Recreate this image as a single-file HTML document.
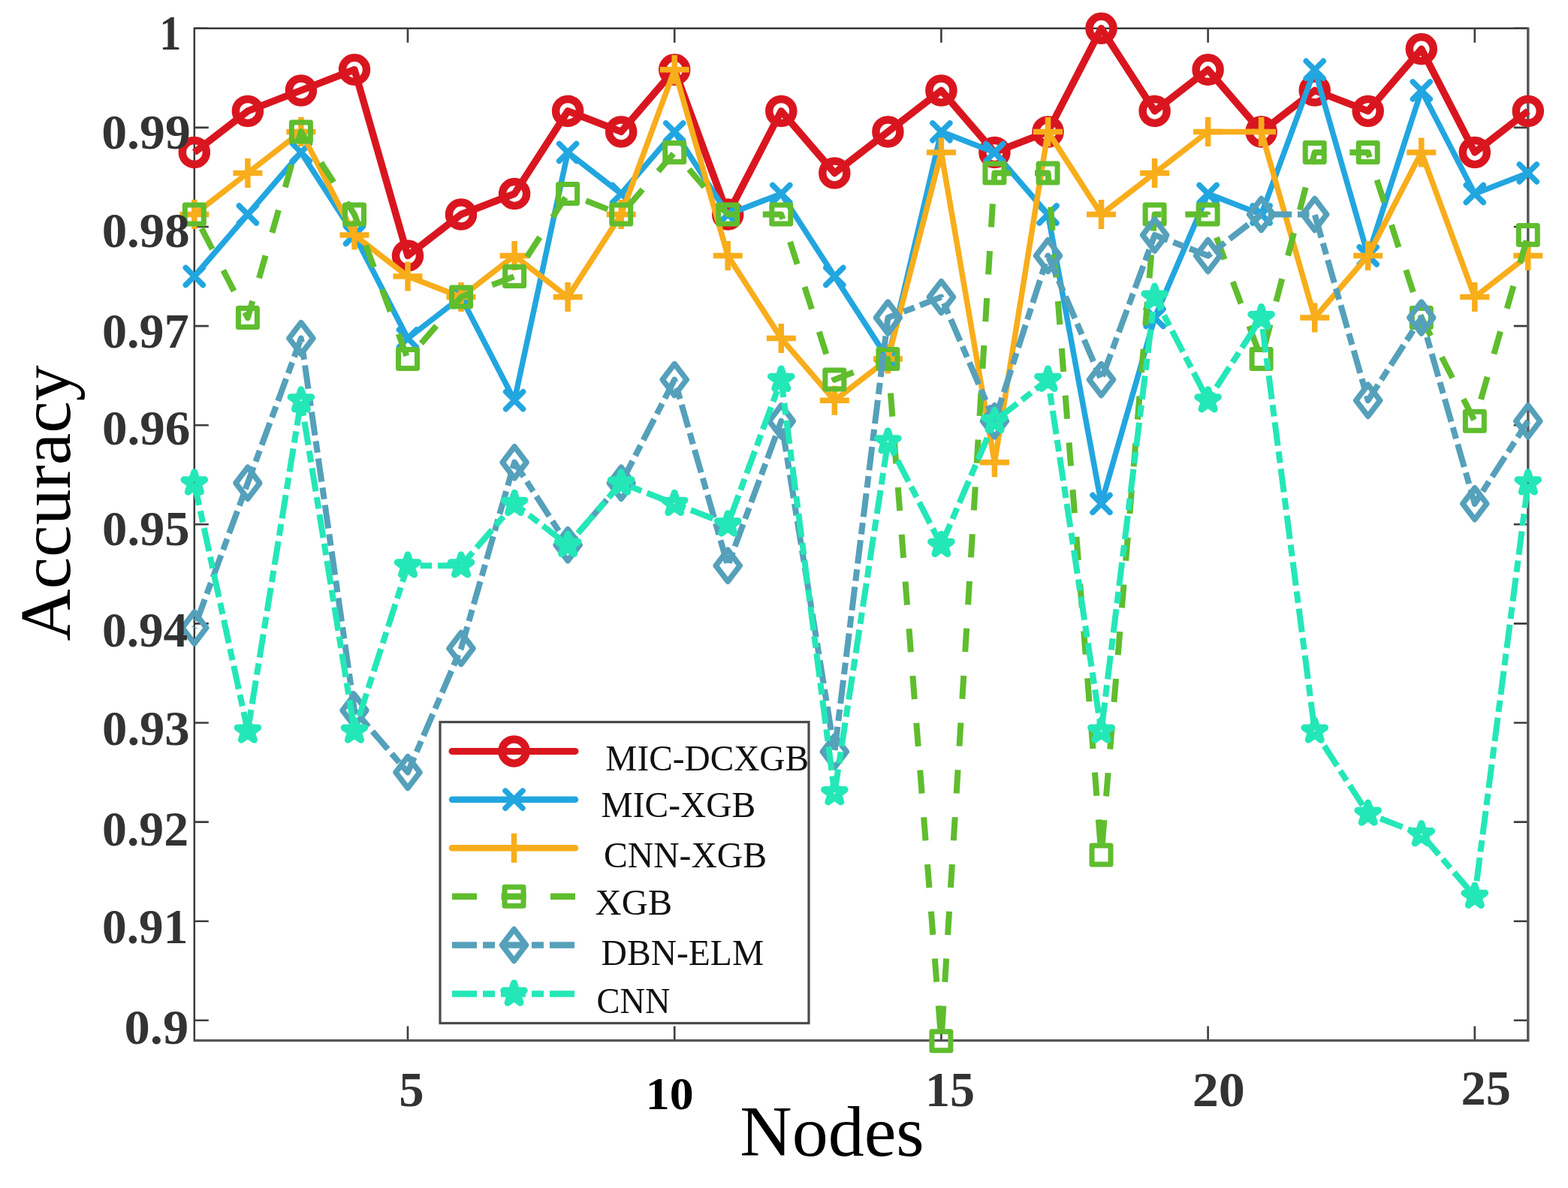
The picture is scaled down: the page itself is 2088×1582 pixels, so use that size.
<!DOCTYPE html>
<html><head><meta charset="utf-8"><title>Accuracy vs Nodes</title>
<style>html,body{margin:0;padding:0;background:#fff;}svg{display:block;}#c{width:2088px;height:1582px;}</style>
</head><body><div id="c">
<svg width="2088" height="1582" viewBox="0 0 2088 1582">
<rect x="0" y="0" width="2088" height="1582" fill="#fff"/>
<defs><clipPath id="ax"><rect x="233.83999999999997" y="12.799999999999997" width="1826.0000000000002" height="1397.8"/></clipPath></defs>
<path d="M543.0,1385.6V1366.6M543.0,37.8V56.8M898.2,1385.6V1366.6M898.2,37.8V56.8M1253.4,1385.6V1366.6M1253.4,37.8V56.8M1608.6,1385.6V1366.6M1608.6,37.8V56.8M1963.8,1385.6V1366.6M1963.8,37.8V56.8M258.8,37.8H277.8M2034.8,37.8H2015.8M258.8,169.9H277.8M2034.8,169.9H2015.8M258.8,302.0H277.8M2034.8,302.0H2015.8M258.8,434.1H277.8M2034.8,434.1H2015.8M258.8,566.2H277.8M2034.8,566.2H2015.8M258.8,698.3H277.8M2034.8,698.3H2015.8M258.8,830.4H277.8M2034.8,830.4H2015.8M258.8,962.5H277.8M2034.8,962.5H2015.8M258.8,1094.6H277.8M2034.8,1094.6H2015.8M258.8,1226.7H277.8M2034.8,1226.7H2015.8M258.8,1358.8H277.8M2034.8,1358.8H2015.8" stroke="#3d3d3d" stroke-width="2.6" fill="none"/>
<path d="M257.6,37.8H2034.8M258.8,37.8V1385.6" stroke="#3a3a3a" stroke-width="2.5" fill="none"/>
<path d="M257.6,1385.6H2036.5M2034.8,36.6V1385.6" stroke="#555" stroke-width="3.4" fill="none"/>
<g clip-path="url(#ax)">
<polyline points="258.8,202.9 329.9,147.9 400.9,120.4 472.0,92.8 543.0,340.5 614.0,285.5 685.1,258.0 756.1,147.9 827.2,175.4 898.2,92.8 969.2,285.5 1040.3,147.9 1111.3,230.4 1182.4,175.4 1253.4,120.4 1324.4,202.9 1395.5,175.4 1466.5,37.8 1537.6,147.9 1608.6,92.8 1679.6,175.4 1750.7,120.4 1821.7,147.9 1892.8,65.3 1963.8,202.9 2034.8,147.9" fill="none" stroke="#d9161f" stroke-width="9.5" stroke-linejoin="round" stroke-linecap="butt"/>
<circle cx="258.8" cy="202.9" r="16" fill="none" stroke="#d9161f" stroke-width="10.5"/>
<circle cx="329.9" cy="147.9" r="16" fill="none" stroke="#d9161f" stroke-width="10.5"/>
<circle cx="400.9" cy="120.4" r="16" fill="none" stroke="#d9161f" stroke-width="10.5"/>
<circle cx="472.0" cy="92.8" r="16" fill="none" stroke="#d9161f" stroke-width="10.5"/>
<circle cx="543.0" cy="340.5" r="16" fill="none" stroke="#d9161f" stroke-width="10.5"/>
<circle cx="614.0" cy="285.5" r="16" fill="none" stroke="#d9161f" stroke-width="10.5"/>
<circle cx="685.1" cy="258.0" r="16" fill="none" stroke="#d9161f" stroke-width="10.5"/>
<circle cx="756.1" cy="147.9" r="16" fill="none" stroke="#d9161f" stroke-width="10.5"/>
<circle cx="827.2" cy="175.4" r="16" fill="none" stroke="#d9161f" stroke-width="10.5"/>
<circle cx="898.2" cy="92.8" r="16" fill="none" stroke="#d9161f" stroke-width="10.5"/>
<circle cx="969.2" cy="285.5" r="16" fill="none" stroke="#d9161f" stroke-width="10.5"/>
<circle cx="1040.3" cy="147.9" r="16" fill="none" stroke="#d9161f" stroke-width="10.5"/>
<circle cx="1111.3" cy="230.4" r="16" fill="none" stroke="#d9161f" stroke-width="10.5"/>
<circle cx="1182.4" cy="175.4" r="16" fill="none" stroke="#d9161f" stroke-width="10.5"/>
<circle cx="1253.4" cy="120.4" r="16" fill="none" stroke="#d9161f" stroke-width="10.5"/>
<circle cx="1324.4" cy="202.9" r="16" fill="none" stroke="#d9161f" stroke-width="10.5"/>
<circle cx="1395.5" cy="175.4" r="16" fill="none" stroke="#d9161f" stroke-width="10.5"/>
<circle cx="1466.5" cy="37.8" r="16" fill="none" stroke="#d9161f" stroke-width="10.5"/>
<circle cx="1537.6" cy="147.9" r="16" fill="none" stroke="#d9161f" stroke-width="10.5"/>
<circle cx="1608.6" cy="92.8" r="16" fill="none" stroke="#d9161f" stroke-width="10.5"/>
<circle cx="1679.6" cy="175.4" r="16" fill="none" stroke="#d9161f" stroke-width="10.5"/>
<circle cx="1750.7" cy="120.4" r="16" fill="none" stroke="#d9161f" stroke-width="10.5"/>
<circle cx="1821.7" cy="147.9" r="16" fill="none" stroke="#d9161f" stroke-width="10.5"/>
<circle cx="1892.8" cy="65.3" r="16" fill="none" stroke="#d9161f" stroke-width="10.5"/>
<circle cx="1963.8" cy="202.9" r="16" fill="none" stroke="#d9161f" stroke-width="10.5"/>
<circle cx="2034.8" cy="147.9" r="16" fill="none" stroke="#d9161f" stroke-width="10.5"/>
<polyline points="258.8,368.0 329.9,285.5 400.9,202.9 472.0,313.0 543.0,450.6 614.0,395.6 685.1,533.2 756.1,202.9 827.2,258.0 898.2,175.4 969.2,285.5 1040.3,258.0 1111.3,368.0 1182.4,478.1 1253.4,175.4 1324.4,202.9 1395.5,285.5 1466.5,670.8 1537.6,423.1 1608.6,258.0 1679.6,285.5 1750.7,92.8 1821.7,340.5 1892.8,120.4 1963.8,258.0 2034.8,230.4" fill="none" stroke="#22a6e0" stroke-width="7.5" stroke-linejoin="round" stroke-linecap="butt"/>
<path d="M247.3,356.5L270.3,379.5M247.3,379.5L270.3,356.5" stroke="#22a6e0" stroke-width="7.5" stroke-linecap="round" fill="none"/>
<path d="M318.4,274.0L341.4,297.0M318.4,297.0L341.4,274.0" stroke="#22a6e0" stroke-width="7.5" stroke-linecap="round" fill="none"/>
<path d="M389.4,191.4L412.4,214.4M389.4,214.4L412.4,191.4" stroke="#22a6e0" stroke-width="7.5" stroke-linecap="round" fill="none"/>
<path d="M460.5,301.5L483.5,324.5M460.5,324.5L483.5,301.5" stroke="#22a6e0" stroke-width="7.5" stroke-linecap="round" fill="none"/>
<path d="M531.5,439.1L554.5,462.1M531.5,462.1L554.5,439.1" stroke="#22a6e0" stroke-width="7.5" stroke-linecap="round" fill="none"/>
<path d="M602.5,384.1L625.5,407.1M602.5,407.1L625.5,384.1" stroke="#22a6e0" stroke-width="7.5" stroke-linecap="round" fill="none"/>
<path d="M673.6,521.7L696.6,544.7M673.6,544.7L696.6,521.7" stroke="#22a6e0" stroke-width="7.5" stroke-linecap="round" fill="none"/>
<path d="M744.6,191.4L767.6,214.4M744.6,214.4L767.6,191.4" stroke="#22a6e0" stroke-width="7.5" stroke-linecap="round" fill="none"/>
<path d="M815.7,246.5L838.7,269.5M815.7,269.5L838.7,246.5" stroke="#22a6e0" stroke-width="7.5" stroke-linecap="round" fill="none"/>
<path d="M886.7,163.9L909.7,186.9M886.7,186.9L909.7,163.9" stroke="#22a6e0" stroke-width="7.5" stroke-linecap="round" fill="none"/>
<path d="M957.7,274.0L980.7,297.0M957.7,297.0L980.7,274.0" stroke="#22a6e0" stroke-width="7.5" stroke-linecap="round" fill="none"/>
<path d="M1028.8,246.5L1051.8,269.5M1028.8,269.5L1051.8,246.5" stroke="#22a6e0" stroke-width="7.5" stroke-linecap="round" fill="none"/>
<path d="M1099.8,356.5L1122.8,379.5M1099.8,379.5L1122.8,356.5" stroke="#22a6e0" stroke-width="7.5" stroke-linecap="round" fill="none"/>
<path d="M1170.9,466.6L1193.9,489.6M1170.9,489.6L1193.9,466.6" stroke="#22a6e0" stroke-width="7.5" stroke-linecap="round" fill="none"/>
<path d="M1241.9,163.9L1264.9,186.9M1241.9,186.9L1264.9,163.9" stroke="#22a6e0" stroke-width="7.5" stroke-linecap="round" fill="none"/>
<path d="M1312.9,191.4L1335.9,214.4M1312.9,214.4L1335.9,191.4" stroke="#22a6e0" stroke-width="7.5" stroke-linecap="round" fill="none"/>
<path d="M1384.0,274.0L1407.0,297.0M1384.0,297.0L1407.0,274.0" stroke="#22a6e0" stroke-width="7.5" stroke-linecap="round" fill="none"/>
<path d="M1455.0,659.3L1478.0,682.3M1455.0,682.3L1478.0,659.3" stroke="#22a6e0" stroke-width="7.5" stroke-linecap="round" fill="none"/>
<path d="M1526.1,411.6L1549.1,434.6M1526.1,434.6L1549.1,411.6" stroke="#22a6e0" stroke-width="7.5" stroke-linecap="round" fill="none"/>
<path d="M1597.1,246.5L1620.1,269.5M1597.1,269.5L1620.1,246.5" stroke="#22a6e0" stroke-width="7.5" stroke-linecap="round" fill="none"/>
<path d="M1668.1,274.0L1691.1,297.0M1668.1,297.0L1691.1,274.0" stroke="#22a6e0" stroke-width="7.5" stroke-linecap="round" fill="none"/>
<path d="M1739.2,81.3L1762.2,104.3M1739.2,104.3L1762.2,81.3" stroke="#22a6e0" stroke-width="7.5" stroke-linecap="round" fill="none"/>
<path d="M1810.2,329.0L1833.2,352.0M1810.2,352.0L1833.2,329.0" stroke="#22a6e0" stroke-width="7.5" stroke-linecap="round" fill="none"/>
<path d="M1881.3,108.9L1904.3,131.9M1881.3,131.9L1904.3,108.9" stroke="#22a6e0" stroke-width="7.5" stroke-linecap="round" fill="none"/>
<path d="M1952.3,246.5L1975.3,269.5M1952.3,269.5L1975.3,246.5" stroke="#22a6e0" stroke-width="7.5" stroke-linecap="round" fill="none"/>
<path d="M2023.3,218.9L2046.3,241.9M2023.3,241.9L2046.3,218.9" stroke="#22a6e0" stroke-width="7.5" stroke-linecap="round" fill="none"/>
<polyline points="258.8,285.5 329.9,230.4 400.9,175.4 472.0,313.0 543.0,368.0 614.0,395.6 685.1,340.5 756.1,395.6 827.2,285.5 898.2,92.8 969.2,340.5 1040.3,450.6 1111.3,533.2 1182.4,478.1 1253.4,202.9 1324.4,615.7 1395.5,175.4 1466.5,285.5 1537.6,230.4 1608.6,175.4 1679.6,175.4 1750.7,423.1 1821.7,340.5 1892.8,202.9 1963.8,395.6 2034.8,340.5" fill="none" stroke="#f8ad1b" stroke-width="7.5" stroke-linejoin="round" stroke-linecap="butt"/>
<path d="M239.3,285.5H278.3M258.8,266.0V305.0" stroke="#f8ad1b" stroke-width="7.5" stroke-linecap="butt" fill="none"/>
<path d="M310.4,230.4H349.4M329.9,210.9V249.9" stroke="#f8ad1b" stroke-width="7.5" stroke-linecap="butt" fill="none"/>
<path d="M381.4,175.4H420.4M400.9,155.9V194.9" stroke="#f8ad1b" stroke-width="7.5" stroke-linecap="butt" fill="none"/>
<path d="M452.5,313.0H491.5M472.0,293.5V332.5" stroke="#f8ad1b" stroke-width="7.5" stroke-linecap="butt" fill="none"/>
<path d="M523.5,368.0H562.5M543.0,348.5V387.5" stroke="#f8ad1b" stroke-width="7.5" stroke-linecap="butt" fill="none"/>
<path d="M594.5,395.6H633.5M614.0,376.1V415.1" stroke="#f8ad1b" stroke-width="7.5" stroke-linecap="butt" fill="none"/>
<path d="M665.6,340.5H704.6M685.1,321.0V360.0" stroke="#f8ad1b" stroke-width="7.5" stroke-linecap="butt" fill="none"/>
<path d="M736.6,395.6H775.6M756.1,376.1V415.1" stroke="#f8ad1b" stroke-width="7.5" stroke-linecap="butt" fill="none"/>
<path d="M807.7,285.5H846.7M827.2,266.0V305.0" stroke="#f8ad1b" stroke-width="7.5" stroke-linecap="butt" fill="none"/>
<path d="M878.7,92.8H917.7M898.2,73.3V112.3" stroke="#f8ad1b" stroke-width="7.5" stroke-linecap="butt" fill="none"/>
<path d="M949.7,340.5H988.7M969.2,321.0V360.0" stroke="#f8ad1b" stroke-width="7.5" stroke-linecap="butt" fill="none"/>
<path d="M1020.8,450.6H1059.8M1040.3,431.1V470.1" stroke="#f8ad1b" stroke-width="7.5" stroke-linecap="butt" fill="none"/>
<path d="M1091.8,533.2H1130.8M1111.3,513.7V552.7" stroke="#f8ad1b" stroke-width="7.5" stroke-linecap="butt" fill="none"/>
<path d="M1162.9,478.1H1201.9M1182.4,458.6V497.6" stroke="#f8ad1b" stroke-width="7.5" stroke-linecap="butt" fill="none"/>
<path d="M1233.9,202.9H1272.9M1253.4,183.4V222.4" stroke="#f8ad1b" stroke-width="7.5" stroke-linecap="butt" fill="none"/>
<path d="M1304.9,615.7H1343.9M1324.4,596.2V635.2" stroke="#f8ad1b" stroke-width="7.5" stroke-linecap="butt" fill="none"/>
<path d="M1376.0,175.4H1415.0M1395.5,155.9V194.9" stroke="#f8ad1b" stroke-width="7.5" stroke-linecap="butt" fill="none"/>
<path d="M1447.0,285.5H1486.0M1466.5,266.0V305.0" stroke="#f8ad1b" stroke-width="7.5" stroke-linecap="butt" fill="none"/>
<path d="M1518.1,230.4H1557.1M1537.6,210.9V249.9" stroke="#f8ad1b" stroke-width="7.5" stroke-linecap="butt" fill="none"/>
<path d="M1589.1,175.4H1628.1M1608.6,155.9V194.9" stroke="#f8ad1b" stroke-width="7.5" stroke-linecap="butt" fill="none"/>
<path d="M1660.1,175.4H1699.1M1679.6,155.9V194.9" stroke="#f8ad1b" stroke-width="7.5" stroke-linecap="butt" fill="none"/>
<path d="M1731.2,423.1H1770.2M1750.7,403.6V442.6" stroke="#f8ad1b" stroke-width="7.5" stroke-linecap="butt" fill="none"/>
<path d="M1802.2,340.5H1841.2M1821.7,321.0V360.0" stroke="#f8ad1b" stroke-width="7.5" stroke-linecap="butt" fill="none"/>
<path d="M1873.3,202.9H1912.3M1892.8,183.4V222.4" stroke="#f8ad1b" stroke-width="7.5" stroke-linecap="butt" fill="none"/>
<path d="M1944.3,395.6H1983.3M1963.8,376.1V415.1" stroke="#f8ad1b" stroke-width="7.5" stroke-linecap="butt" fill="none"/>
<path d="M2015.3,340.5H2054.3M2034.8,321.0V360.0" stroke="#f8ad1b" stroke-width="7.5" stroke-linecap="butt" fill="none"/>
<polyline points="258.8,285.5 329.9,423.1 400.9,175.4 472.0,285.5 543.0,478.1 614.0,395.6 685.1,368.0 756.1,258.0 827.2,285.5 898.2,202.9 969.2,285.5 1040.3,285.5 1111.3,505.6 1182.4,478.1 1253.4,1386.3 1324.4,230.4 1395.5,230.4 1466.5,1138.6 1537.6,285.5 1608.6,285.5 1679.6,478.1 1750.7,202.9 1821.7,202.9 1892.8,423.1 1963.8,560.7 2034.8,313.0" fill="none" stroke="#5fbd2e" stroke-width="8" stroke-linejoin="round" stroke-linecap="butt" stroke-dasharray="31.2 31.74" stroke-dashoffset="42.07"/>
<rect x="246.3" y="273.0" width="25.0" height="25.0" fill="none" stroke="#5fbd2e" stroke-width="7" stroke-linejoin="round"/>
<rect x="317.4" y="410.6" width="25.0" height="25.0" fill="none" stroke="#5fbd2e" stroke-width="7" stroke-linejoin="round"/>
<rect x="388.4" y="162.9" width="25.0" height="25.0" fill="none" stroke="#5fbd2e" stroke-width="7" stroke-linejoin="round"/>
<rect x="459.5" y="273.0" width="25.0" height="25.0" fill="none" stroke="#5fbd2e" stroke-width="7" stroke-linejoin="round"/>
<rect x="530.5" y="465.6" width="25.0" height="25.0" fill="none" stroke="#5fbd2e" stroke-width="7" stroke-linejoin="round"/>
<rect x="601.5" y="383.1" width="25.0" height="25.0" fill="none" stroke="#5fbd2e" stroke-width="7" stroke-linejoin="round"/>
<rect x="672.6" y="355.5" width="25.0" height="25.0" fill="none" stroke="#5fbd2e" stroke-width="7" stroke-linejoin="round"/>
<rect x="743.6" y="245.5" width="25.0" height="25.0" fill="none" stroke="#5fbd2e" stroke-width="7" stroke-linejoin="round"/>
<rect x="814.7" y="273.0" width="25.0" height="25.0" fill="none" stroke="#5fbd2e" stroke-width="7" stroke-linejoin="round"/>
<rect x="885.7" y="190.4" width="25.0" height="25.0" fill="none" stroke="#5fbd2e" stroke-width="7" stroke-linejoin="round"/>
<rect x="956.7" y="273.0" width="25.0" height="25.0" fill="none" stroke="#5fbd2e" stroke-width="7" stroke-linejoin="round"/>
<rect x="1027.8" y="273.0" width="25.0" height="25.0" fill="none" stroke="#5fbd2e" stroke-width="7" stroke-linejoin="round"/>
<rect x="1098.8" y="493.1" width="25.0" height="25.0" fill="none" stroke="#5fbd2e" stroke-width="7" stroke-linejoin="round"/>
<rect x="1169.9" y="465.6" width="25.0" height="25.0" fill="none" stroke="#5fbd2e" stroke-width="7" stroke-linejoin="round"/>
<rect x="1240.9" y="1373.8" width="25.0" height="25.0" fill="none" stroke="#5fbd2e" stroke-width="7" stroke-linejoin="round"/>
<rect x="1311.9" y="217.9" width="25.0" height="25.0" fill="none" stroke="#5fbd2e" stroke-width="7" stroke-linejoin="round"/>
<rect x="1383.0" y="217.9" width="25.0" height="25.0" fill="none" stroke="#5fbd2e" stroke-width="7" stroke-linejoin="round"/>
<rect x="1454.0" y="1126.1" width="25.0" height="25.0" fill="none" stroke="#5fbd2e" stroke-width="7" stroke-linejoin="round"/>
<rect x="1525.1" y="273.0" width="25.0" height="25.0" fill="none" stroke="#5fbd2e" stroke-width="7" stroke-linejoin="round"/>
<rect x="1596.1" y="273.0" width="25.0" height="25.0" fill="none" stroke="#5fbd2e" stroke-width="7" stroke-linejoin="round"/>
<rect x="1667.1" y="465.6" width="25.0" height="25.0" fill="none" stroke="#5fbd2e" stroke-width="7" stroke-linejoin="round"/>
<rect x="1738.2" y="190.4" width="25.0" height="25.0" fill="none" stroke="#5fbd2e" stroke-width="7" stroke-linejoin="round"/>
<rect x="1809.2" y="190.4" width="25.0" height="25.0" fill="none" stroke="#5fbd2e" stroke-width="7" stroke-linejoin="round"/>
<rect x="1880.3" y="410.6" width="25.0" height="25.0" fill="none" stroke="#5fbd2e" stroke-width="7" stroke-linejoin="round"/>
<rect x="1951.3" y="548.2" width="25.0" height="25.0" fill="none" stroke="#5fbd2e" stroke-width="7" stroke-linejoin="round"/>
<rect x="2022.3" y="300.5" width="25.0" height="25.0" fill="none" stroke="#5fbd2e" stroke-width="7" stroke-linejoin="round"/>
<polyline points="258.8,835.9 329.9,643.2 400.9,450.6 472.0,946.0 543.0,1028.5 614.0,863.4 685.1,615.7 756.1,725.8 827.2,643.2 898.2,505.6 969.2,753.3 1040.3,560.7 1111.3,1001.0 1182.4,423.1 1253.4,395.6 1324.4,560.7 1395.5,340.5 1466.5,505.6 1537.6,313.0 1608.6,340.5 1679.6,285.5 1750.7,285.5 1821.7,533.2 1892.8,423.1 1963.8,670.8 2034.8,560.7" fill="none" stroke="#55a0ba" stroke-width="8" stroke-linejoin="round" stroke-linecap="butt" stroke-dasharray="31.5 7.8 15.5 7.8" stroke-dashoffset="53.81"/>
<path d="M258.8,814.9L274.8,835.9L258.8,856.9L242.8,835.9Z" fill="none" stroke="#55a0ba" stroke-width="7.5" stroke-linejoin="round"/>
<path d="M329.9,622.2L345.9,643.2L329.9,664.2L313.9,643.2Z" fill="none" stroke="#55a0ba" stroke-width="7.5" stroke-linejoin="round"/>
<path d="M400.9,429.6L416.9,450.6L400.9,471.6L384.9,450.6Z" fill="none" stroke="#55a0ba" stroke-width="7.5" stroke-linejoin="round"/>
<path d="M472.0,925.0L488.0,946.0L472.0,967.0L456.0,946.0Z" fill="none" stroke="#55a0ba" stroke-width="7.5" stroke-linejoin="round"/>
<path d="M543.0,1007.5L559.0,1028.5L543.0,1049.5L527.0,1028.5Z" fill="none" stroke="#55a0ba" stroke-width="7.5" stroke-linejoin="round"/>
<path d="M614.0,842.4L630.0,863.4L614.0,884.4L598.0,863.4Z" fill="none" stroke="#55a0ba" stroke-width="7.5" stroke-linejoin="round"/>
<path d="M685.1,594.7L701.1,615.7L685.1,636.7L669.1,615.7Z" fill="none" stroke="#55a0ba" stroke-width="7.5" stroke-linejoin="round"/>
<path d="M756.1,704.8L772.1,725.8L756.1,746.8L740.1,725.8Z" fill="none" stroke="#55a0ba" stroke-width="7.5" stroke-linejoin="round"/>
<path d="M827.2,622.2L843.2,643.2L827.2,664.2L811.2,643.2Z" fill="none" stroke="#55a0ba" stroke-width="7.5" stroke-linejoin="round"/>
<path d="M898.2,484.6L914.2,505.6L898.2,526.6L882.2,505.6Z" fill="none" stroke="#55a0ba" stroke-width="7.5" stroke-linejoin="round"/>
<path d="M969.2,732.3L985.2,753.3L969.2,774.3L953.2,753.3Z" fill="none" stroke="#55a0ba" stroke-width="7.5" stroke-linejoin="round"/>
<path d="M1040.3,539.7L1056.3,560.7L1040.3,581.7L1024.3,560.7Z" fill="none" stroke="#55a0ba" stroke-width="7.5" stroke-linejoin="round"/>
<path d="M1111.3,980.0L1127.3,1001.0L1111.3,1022.0L1095.3,1001.0Z" fill="none" stroke="#55a0ba" stroke-width="7.5" stroke-linejoin="round"/>
<path d="M1182.4,402.1L1198.4,423.1L1182.4,444.1L1166.4,423.1Z" fill="none" stroke="#55a0ba" stroke-width="7.5" stroke-linejoin="round"/>
<path d="M1253.4,374.6L1269.4,395.6L1253.4,416.6L1237.4,395.6Z" fill="none" stroke="#55a0ba" stroke-width="7.5" stroke-linejoin="round"/>
<path d="M1324.4,539.7L1340.4,560.7L1324.4,581.7L1308.4,560.7Z" fill="none" stroke="#55a0ba" stroke-width="7.5" stroke-linejoin="round"/>
<path d="M1395.5,319.5L1411.5,340.5L1395.5,361.5L1379.5,340.5Z" fill="none" stroke="#55a0ba" stroke-width="7.5" stroke-linejoin="round"/>
<path d="M1466.5,484.6L1482.5,505.6L1466.5,526.6L1450.5,505.6Z" fill="none" stroke="#55a0ba" stroke-width="7.5" stroke-linejoin="round"/>
<path d="M1537.6,292.0L1553.6,313.0L1537.6,334.0L1521.6,313.0Z" fill="none" stroke="#55a0ba" stroke-width="7.5" stroke-linejoin="round"/>
<path d="M1608.6,319.5L1624.6,340.5L1608.6,361.5L1592.6,340.5Z" fill="none" stroke="#55a0ba" stroke-width="7.5" stroke-linejoin="round"/>
<path d="M1679.6,264.5L1695.6,285.5L1679.6,306.5L1663.6,285.5Z" fill="none" stroke="#55a0ba" stroke-width="7.5" stroke-linejoin="round"/>
<path d="M1750.7,264.5L1766.7,285.5L1750.7,306.5L1734.7,285.5Z" fill="none" stroke="#55a0ba" stroke-width="7.5" stroke-linejoin="round"/>
<path d="M1821.7,512.2L1837.7,533.2L1821.7,554.2L1805.7,533.2Z" fill="none" stroke="#55a0ba" stroke-width="7.5" stroke-linejoin="round"/>
<path d="M1892.8,402.1L1908.8,423.1L1892.8,444.1L1876.8,423.1Z" fill="none" stroke="#55a0ba" stroke-width="7.5" stroke-linejoin="round"/>
<path d="M1963.8,649.8L1979.8,670.8L1963.8,691.8L1947.8,670.8Z" fill="none" stroke="#55a0ba" stroke-width="7.5" stroke-linejoin="round"/>
<path d="M2034.8,539.7L2050.8,560.7L2034.8,581.7L2018.8,560.7Z" fill="none" stroke="#55a0ba" stroke-width="7.5" stroke-linejoin="round"/>
<polyline points="258.8,643.2 329.9,973.5 400.9,533.2 472.0,973.5 543.0,753.3 614.0,753.3 685.1,670.8 756.1,725.8 827.2,643.2 898.2,670.8 969.2,698.3 1040.3,505.6 1111.3,1056.0 1182.4,588.2 1253.4,725.8 1324.4,560.7 1395.5,505.6 1466.5,973.5 1537.6,395.6 1608.6,533.2 1679.6,423.1 1750.7,973.5 1821.7,1083.6 1892.8,1111.1 1963.8,1193.6 2034.8,643.2" fill="none" stroke="#24e7b8" stroke-width="8" stroke-linejoin="round" stroke-linecap="butt" stroke-dasharray="31.5 7.8 15.5 7.8" stroke-dashoffset="1.24"/>
<polygon points="258.8,628.7 262.1,638.8 272.6,638.8 264.1,645.0 267.4,655.0 258.8,648.8 250.3,655.0 253.6,645.0 245.0,638.8 255.6,638.8" fill="none" stroke="#24e7b8" stroke-width="9" stroke-linejoin="round"/>
<polygon points="329.9,959.0 333.1,969.0 343.7,969.0 335.1,975.2 338.4,985.2 329.9,979.0 321.4,985.2 324.6,975.2 316.1,969.0 326.6,969.0" fill="none" stroke="#24e7b8" stroke-width="9" stroke-linejoin="round"/>
<polygon points="400.9,518.7 404.2,528.7 414.7,528.7 406.2,534.9 409.4,544.9 400.9,538.7 392.4,544.9 395.7,534.9 387.1,528.7 397.7,528.7" fill="none" stroke="#24e7b8" stroke-width="9" stroke-linejoin="round"/>
<polygon points="472.0,959.0 475.2,969.0 485.8,969.0 477.2,975.2 480.5,985.2 472.0,979.0 463.4,985.2 466.7,975.2 458.2,969.0 468.7,969.0" fill="none" stroke="#24e7b8" stroke-width="9" stroke-linejoin="round"/>
<polygon points="543.0,738.8 546.3,748.8 556.8,748.8 548.3,755.0 551.5,765.1 543.0,758.9 534.5,765.1 537.7,755.0 529.2,748.8 539.7,748.8" fill="none" stroke="#24e7b8" stroke-width="9" stroke-linejoin="round"/>
<polygon points="614.0,738.8 617.3,748.8 627.8,748.8 619.3,755.0 622.6,765.1 614.0,758.9 605.5,765.1 608.8,755.0 600.2,748.8 610.8,748.8" fill="none" stroke="#24e7b8" stroke-width="9" stroke-linejoin="round"/>
<polygon points="685.1,656.3 688.3,666.3 698.9,666.3 690.3,672.5 693.6,682.5 685.1,676.3 676.6,682.5 679.8,672.5 671.3,666.3 681.8,666.3" fill="none" stroke="#24e7b8" stroke-width="9" stroke-linejoin="round"/>
<polygon points="756.1,711.3 759.4,721.3 769.9,721.3 761.4,727.5 764.6,737.5 756.1,731.3 747.6,737.5 750.9,727.5 742.3,721.3 752.9,721.3" fill="none" stroke="#24e7b8" stroke-width="9" stroke-linejoin="round"/>
<polygon points="827.2,628.7 830.4,638.8 841.0,638.8 832.4,645.0 835.7,655.0 827.2,648.8 818.6,655.0 821.9,645.0 813.4,638.8 823.9,638.8" fill="none" stroke="#24e7b8" stroke-width="9" stroke-linejoin="round"/>
<polygon points="898.2,656.3 901.5,666.3 912.0,666.3 903.5,672.5 906.7,682.5 898.2,676.3 889.7,682.5 892.9,672.5 884.4,666.3 894.9,666.3" fill="none" stroke="#24e7b8" stroke-width="9" stroke-linejoin="round"/>
<polygon points="969.2,683.8 972.5,693.8 983.0,693.8 974.5,700.0 977.8,710.0 969.2,703.8 960.7,710.0 964.0,700.0 955.4,693.8 966.0,693.8" fill="none" stroke="#24e7b8" stroke-width="9" stroke-linejoin="round"/>
<polygon points="1040.3,491.1 1043.5,501.2 1054.1,501.2 1045.5,507.4 1048.8,517.4 1040.3,511.2 1031.8,517.4 1035.0,507.4 1026.5,501.2 1037.0,501.2" fill="none" stroke="#24e7b8" stroke-width="9" stroke-linejoin="round"/>
<polygon points="1111.3,1041.5 1114.6,1051.6 1125.1,1051.6 1116.6,1057.8 1119.8,1067.8 1111.3,1061.6 1102.8,1067.8 1106.1,1057.8 1097.5,1051.6 1108.1,1051.6" fill="none" stroke="#24e7b8" stroke-width="9" stroke-linejoin="round"/>
<polygon points="1182.4,573.7 1185.6,583.7 1196.2,583.7 1187.6,589.9 1190.9,599.9 1182.4,593.7 1173.8,599.9 1177.1,589.9 1168.6,583.7 1179.1,583.7" fill="none" stroke="#24e7b8" stroke-width="9" stroke-linejoin="round"/>
<polygon points="1253.4,711.3 1256.7,721.3 1267.2,721.3 1258.7,727.5 1261.9,737.5 1253.4,731.3 1244.9,737.5 1248.1,727.5 1239.6,721.3 1250.1,721.3" fill="none" stroke="#24e7b8" stroke-width="9" stroke-linejoin="round"/>
<polygon points="1324.4,546.2 1327.7,556.2 1338.2,556.2 1329.7,562.4 1333.0,572.4 1324.4,566.2 1315.9,572.4 1319.2,562.4 1310.6,556.2 1321.2,556.2" fill="none" stroke="#24e7b8" stroke-width="9" stroke-linejoin="round"/>
<polygon points="1395.5,491.1 1398.7,501.2 1409.3,501.2 1400.7,507.4 1404.0,517.4 1395.5,511.2 1387.0,517.4 1390.2,507.4 1381.7,501.2 1392.2,501.2" fill="none" stroke="#24e7b8" stroke-width="9" stroke-linejoin="round"/>
<polygon points="1466.5,959.0 1469.8,969.0 1480.3,969.0 1471.8,975.2 1475.0,985.2 1466.5,979.0 1458.0,985.2 1461.3,975.2 1452.7,969.0 1463.3,969.0" fill="none" stroke="#24e7b8" stroke-width="9" stroke-linejoin="round"/>
<polygon points="1537.6,381.1 1540.8,391.1 1551.4,391.1 1542.8,397.3 1546.1,407.3 1537.6,401.1 1529.0,407.3 1532.3,397.3 1523.8,391.1 1534.3,391.1" fill="none" stroke="#24e7b8" stroke-width="9" stroke-linejoin="round"/>
<polygon points="1608.6,518.7 1611.9,528.7 1622.4,528.7 1613.9,534.9 1617.1,544.9 1608.6,538.7 1600.1,544.9 1603.3,534.9 1594.8,528.7 1605.3,528.7" fill="none" stroke="#24e7b8" stroke-width="9" stroke-linejoin="round"/>
<polygon points="1679.6,408.6 1682.9,418.6 1693.4,418.6 1684.9,424.8 1688.2,434.8 1679.6,428.6 1671.1,434.8 1674.4,424.8 1665.8,418.6 1676.4,418.6" fill="none" stroke="#24e7b8" stroke-width="9" stroke-linejoin="round"/>
<polygon points="1750.7,959.0 1753.9,969.0 1764.5,969.0 1755.9,975.2 1759.2,985.2 1750.7,979.0 1742.2,985.2 1745.4,975.2 1736.9,969.0 1747.4,969.0" fill="none" stroke="#24e7b8" stroke-width="9" stroke-linejoin="round"/>
<polygon points="1821.7,1069.1 1825.0,1079.1 1835.5,1079.1 1827.0,1085.3 1830.2,1095.3 1821.7,1089.1 1813.2,1095.3 1816.5,1085.3 1807.9,1079.1 1818.5,1079.1" fill="none" stroke="#24e7b8" stroke-width="9" stroke-linejoin="round"/>
<polygon points="1892.8,1096.6 1896.0,1106.6 1906.6,1106.6 1898.0,1112.8 1901.3,1122.8 1892.8,1116.6 1884.2,1122.8 1887.5,1112.8 1879.0,1106.6 1889.5,1106.6" fill="none" stroke="#24e7b8" stroke-width="9" stroke-linejoin="round"/>
<polygon points="1963.8,1179.1 1967.1,1189.2 1977.6,1189.2 1969.1,1195.4 1972.3,1205.4 1963.8,1199.2 1955.3,1205.4 1958.5,1195.4 1950.0,1189.2 1960.5,1189.2" fill="none" stroke="#24e7b8" stroke-width="9" stroke-linejoin="round"/>
<polygon points="2034.8,628.7 2038.1,638.8 2048.6,638.8 2040.1,645.0 2043.4,655.0 2034.8,648.8 2026.3,655.0 2029.6,645.0 2021.0,638.8 2031.6,638.8" fill="none" stroke="#24e7b8" stroke-width="9" stroke-linejoin="round"/>
</g>
<g font-family="Liberation Serif, serif" font-weight="bold" font-size="65" fill="#333"><text transform="translate(212.32,65.50) scale(0.8958,1)" x="0" y="0">1</text><text transform="translate(135.21,197.60) scale(1.0431,1)" x="0" y="0">0.99</text><text transform="translate(135.64,329.10) scale(1.0300,1)" x="0" y="0">0.98</text><text transform="translate(136.07,462.50) scale(1.0164,1)" x="0" y="0">0.97</text><text transform="translate(136.04,592.40) scale(1.0318,1)" x="0" y="0">0.96</text><text transform="translate(136.05,725.60) scale(1.0257,1)" x="0" y="0">0.95</text><text transform="translate(136.09,860.50) scale(1.0036,1)" x="0" y="0">0.94</text><text transform="translate(136.05,992.30) scale(1.0257,1)" x="0" y="0">0.93</text><text transform="translate(136.08,1125.60) scale(1.0110,1)" x="0" y="0">0.92</text><text transform="translate(136.09,1255.50) scale(1.0046,1)" x="0" y="0">0.91</text><text transform="translate(165.49,1390.00) scale(1.0545,1)" x="0" y="0">0.9</text></g>
<g font-family="Liberation Serif, serif" font-weight="bold" font-size="65" fill="#333"><text transform="translate(531.22,1472.60) scale(1.0259,1)" x="0" y="0">5</text><text transform="translate(1231.91,1472.60) scale(1.0172,1)" x="0" y="0">15</text><text transform="translate(1587.76,1472.60) scale(1.0800,1)" x="0" y="0">20</text><text transform="translate(1945.53,1471.30) scale(1.0217,1)" x="0" y="0">25</text></g>
<g font-family="Liberation Serif, serif" font-weight="bold" font-size="62" fill="#000"><text transform="translate(859.75,1477.00) scale(1.0291,1)" x="0" y="0">10</text></g>
<text x="1108" y="1538.5" text-anchor="middle" font-family="Liberation Serif, serif" font-size="96" fill="#000">Nodes</text>
<text transform="translate(92.5,670) rotate(-90)" text-anchor="middle" font-family="Liberation Serif, serif" font-size="96" fill="#000">Accuracy</text>
<rect x="586" y="961.5" width="491" height="401.0" fill="#fff" stroke="#4a4a4a" stroke-width="3.2"/>
<path d="M602,1000.4H766" stroke="#d9161f" stroke-width="9" stroke-linecap="round" fill="none"/>
<circle cx="684.5" cy="1000.4" r="16" fill="none" stroke="#d9161f" stroke-width="10.5"/>
<text transform="translate(806.31,1025.60) scale(0.9860,1)" x="0" y="0" font-family="Liberation Serif, serif" font-size="48" fill="#111">MIC-DCXGB</text>
<path d="M602,1064.7H766" stroke="#22a6e0" stroke-width="8.5" stroke-linecap="round" fill="none"/>
<path d="M673.0,1053.2L696.0,1076.2M673.0,1076.2L696.0,1053.2" stroke="#22a6e0" stroke-width="7.5" stroke-linecap="round" fill="none"/>
<text transform="translate(800.61,1088.10) scale(0.9878,1)" x="0" y="0" font-family="Liberation Serif, serif" font-size="48" fill="#111">MIC-XGB</text>
<path d="M602,1129.2H766" stroke="#f8ad1b" stroke-width="8.5" stroke-linecap="round" fill="none"/>
<path d="M665.0,1129.2H704.0M684.5,1109.7V1148.7" stroke="#f8ad1b" stroke-width="7.5" stroke-linecap="butt" fill="none"/>
<text transform="translate(803.91,1155.00) scale(0.9935,1)" x="0" y="0" font-family="Liberation Serif, serif" font-size="48" fill="#111">CNN-XGB</text>
<path d="M602,1193.8H766" stroke="#5fbd2e" stroke-width="8.5" stroke-linecap="butt" fill="none" stroke-dasharray="33 32.5"/>
<rect x="672.0" y="1181.3" width="25.0" height="25.0" fill="none" stroke="#5fbd2e" stroke-width="7" stroke-linejoin="round"/>
<text transform="translate(792.59,1217.80) scale(1.0122,1)" x="0" y="0" font-family="Liberation Serif, serif" font-size="48" fill="#111">XGB</text>
<path d="M602,1258.5H766" stroke="#55a0ba" stroke-width="8.5" stroke-linecap="butt" fill="none" stroke-dasharray="33 8 16 8"/>
<path d="M684.5,1237.5L700.5,1258.5L684.5,1279.5L668.5,1258.5Z" fill="none" stroke="#55a0ba" stroke-width="7.5" stroke-linejoin="round"/>
<text transform="translate(800.61,1285.30) scale(0.9907,1)" x="0" y="0" font-family="Liberation Serif, serif" font-size="48" fill="#111">DBN-ELM</text>
<path d="M602,1323.6H766" stroke="#24e7b8" stroke-width="8.5" stroke-linecap="butt" fill="none" stroke-dasharray="33 8 16 8"/>
<polygon points="684.5,1309.1 687.8,1319.1 698.3,1319.1 689.8,1325.3 693.0,1335.3 684.5,1329.1 676.0,1335.3 679.2,1325.3 670.7,1319.1 681.2,1319.1" fill="none" stroke="#24e7b8" stroke-width="9" stroke-linejoin="round"/>
<text transform="translate(794.56,1348.60) scale(0.9684,1)" x="0" y="0" font-family="Liberation Serif, serif" font-size="48" fill="#111">CNN</text>
</svg>
</div></body></html>
